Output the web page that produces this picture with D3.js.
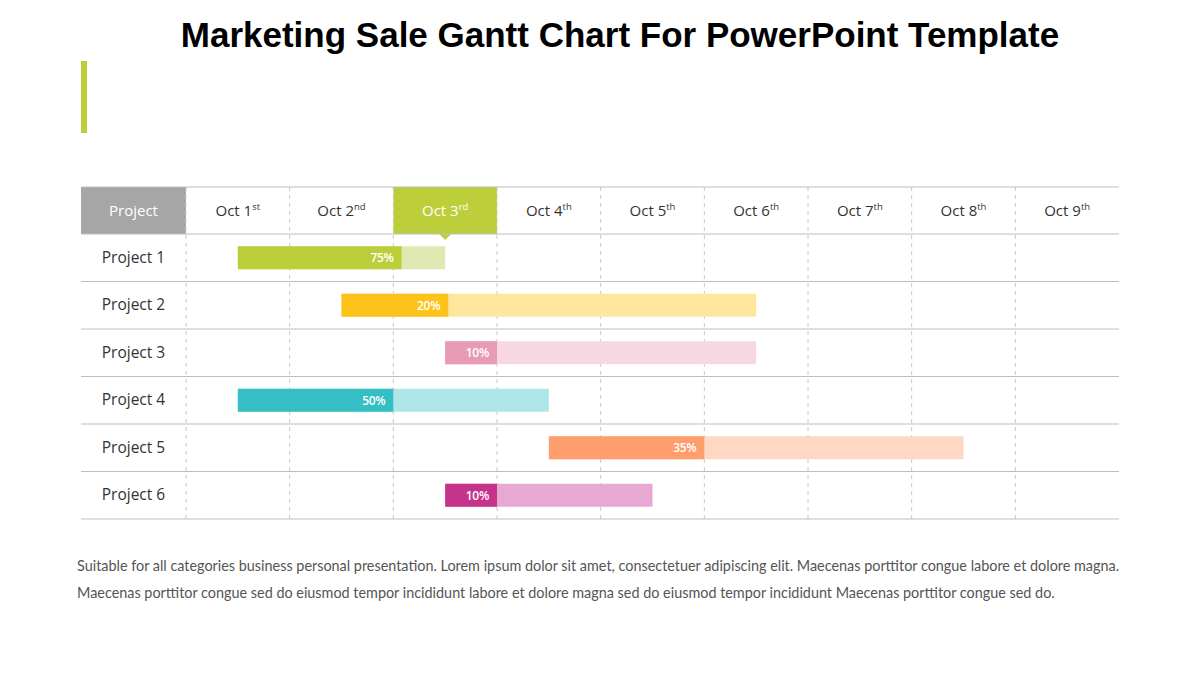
<!DOCTYPE html>
<html><head><meta charset="utf-8">
<script src="https://cdn.jsdelivr.net/npm/d3@7"></script>
<style>
body{margin:0;background:#fff;}
svg{display:block;}
</style></head>
<body>
<svg id="c" width="1200" height="675"></svg>
<script>
const title = "Marketing Sale Gantt Chart For PowerPoint Template";
const days = ["Oct 1","Oct 2","Oct 3","Oct 4","Oct 5","Oct 6","Oct 7","Oct 8","Oct 9"];
const daySuffix = ["st","nd","rd","th","th","th","th","th","th"];
const highlightDay = "Oct 3";
const projects = ["Project 1","Project 2","Project 3","Project 4","Project 5","Project 6"];
const starts = [0.5, 1.5, 2.5, 0.5, 3.5, 2.5];
const dones  = [2.08, 2.53, 3.0, 2.0, 5.0, 3.0];
const ends   = [2.5, 5.5, 5.5, 3.5, 7.5, 4.5];
const percents = ["75%","20%","10%","50%","35%","10%"];
const darkColors  = ["#bccf3a","#fdc31a","#e89bb7","#35bec3","#fd9e6c","#c5338a"];
const lightColors = ["#e0e9b3","#fee69c","#f6d7e2","#aee6e8","#fed8c3","#e7a9d1"];
const footer = [
 "Suitable for all categories business personal presentation. Lorem ipsum dolor sit amet, consectetuer adipiscing elit. Maecenas porttitor congue labore et dolore magna.",
 "Maecenas porttitor congue sed do eiusmod tempor incididunt labore et dolore magna sed do eiusmod tempor incididunt Maecenas porttitor congue sed do."
];

const svg = d3.select("#c");
const font = "'Open Sans', 'Noto Sans', sans-serif";

svg.append("text").attr("x", 620).attr("y", 47).attr("text-anchor","middle")
  .attr("font-family","'Liberation Sans', Arial, sans-serif").attr("font-weight","bold")
  .attr("font-size", 35).attr("fill","#000").text(title);

svg.append("rect").attr("x",81).attr("y",61).attr("width",6).attr("height",72).attr("fill","#bccf3a");

const tableLeft = 81, gridLeft = 186, gridRight = 1119;
const headerTop = 187, headerBottom = 234, tableBottom = 519;

const x = d3.scaleLinear().domain([0, days.length]).range([gridLeft, gridRight]);
const y = d3.scaleBand().domain(projects).range([headerBottom, tableBottom]);

// header cells
svg.append("rect").attr("x",tableLeft).attr("y",headerTop).attr("width",gridLeft-tableLeft)
  .attr("height",headerBottom-headerTop).attr("fill","#a6a6a6");
svg.append("text").attr("x",(tableLeft+gridLeft)/2).attr("y",(headerTop+headerBottom)/2+5)
  .attr("text-anchor","middle").attr("font-family",font).attr("font-size",15).attr("fill","#fff").text("Project");

const hi = days.indexOf(highlightDay);
svg.append("rect").attr("x",x(hi)).attr("y",headerTop).attr("width",x(hi+1)-x(hi))
  .attr("height",headerBottom-headerTop).attr("fill","#bccf3a");
const tx = x(hi+0.5);
svg.append("path").attr("d",`M${tx-6},${headerBottom} L${tx+6},${headerBottom} L${tx},${headerBottom+6} Z`).attr("fill","#bccf3a");

// vertical dashed lines
svg.append("g").selectAll("line").data(d3.range(0, days.length)).join("line")
  .attr("x1", d=>x(d)).attr("x2", d=>x(d)).attr("y1", headerTop).attr("y2", tableBottom)
  .attr("stroke","#c8c8c8").attr("stroke-width",1).attr("stroke-dasharray","4,4");

// horizontal lines
const hLines = [headerTop, headerBottom].concat(projects.map(p=>y(p)+y.bandwidth()));
svg.append("g").selectAll("line").data(hLines).join("line")
  .attr("x1", tableLeft).attr("x2", gridRight).attr("y1", d=>d).attr("y2", d=>d)
  .attr("stroke","#bdbdbd").attr("stroke-width",1.2);

// header labels
const hl = svg.append("g").selectAll("text").data(days).join("text")
  .attr("x",(d,i)=>x(i+0.5)).attr("y",(headerTop+headerBottom)/2+5)
  .attr("text-anchor","middle").attr("font-family",font).attr("font-size",15)
  .attr("fill",(d,i)=> i===hi ? "#fff" : "#333");
hl.append("tspan").text(d=>d);
hl.append("tspan").attr("font-size",9.5).attr("dy",-6).text((d,i)=>daySuffix[i]);

// project labels
svg.append("g").selectAll("text").data(projects).join("text")
  .attr("x",(tableLeft+gridLeft)/2).attr("y",d=>y(d)+y.bandwidth()/2+5)
  .attr("text-anchor","middle").attr("font-family",font).attr("font-size",15.5).attr("fill","#333").text(d=>d);

// bars
const barH = 23;
const bars = svg.append("g").selectAll("g").data(projects).join("g");
bars.append("rect").attr("x",(d,i)=>x(starts[i])).attr("y",d=>y(d)+y.bandwidth()/2-barH/2)
  .attr("width",(d,i)=>x(ends[i])-x(starts[i])).attr("height",barH).attr("fill",(d,i)=>lightColors[i]);
bars.append("rect").attr("x",(d,i)=>x(starts[i])).attr("y",d=>y(d)+y.bandwidth()/2-barH/2)
  .attr("width",(d,i)=>x(dones[i])-x(starts[i])).attr("height",barH).attr("fill",(d,i)=>darkColors[i]);
bars.append("text").attr("x",(d,i)=>x(dones[i])-8).attr("y",d=>y(d)+y.bandwidth()/2+4.5)
  .attr("text-anchor","end").attr("font-family",font).attr("font-size",12).attr("font-weight",600)
  .attr("fill","#fff").attr("letter-spacing",-0.3).text((d,i)=>percents[i]);

// footer
svg.append("g").selectAll("text").data(footer).join("text")
  .attr("x",77).attr("y",(d,i)=>571+i*27).attr("font-family","Lato, 'Noto Sans', sans-serif")
  .attr("font-size",14.4).attr("fill","#555").text(d=>d);
</script>
</body></html>
